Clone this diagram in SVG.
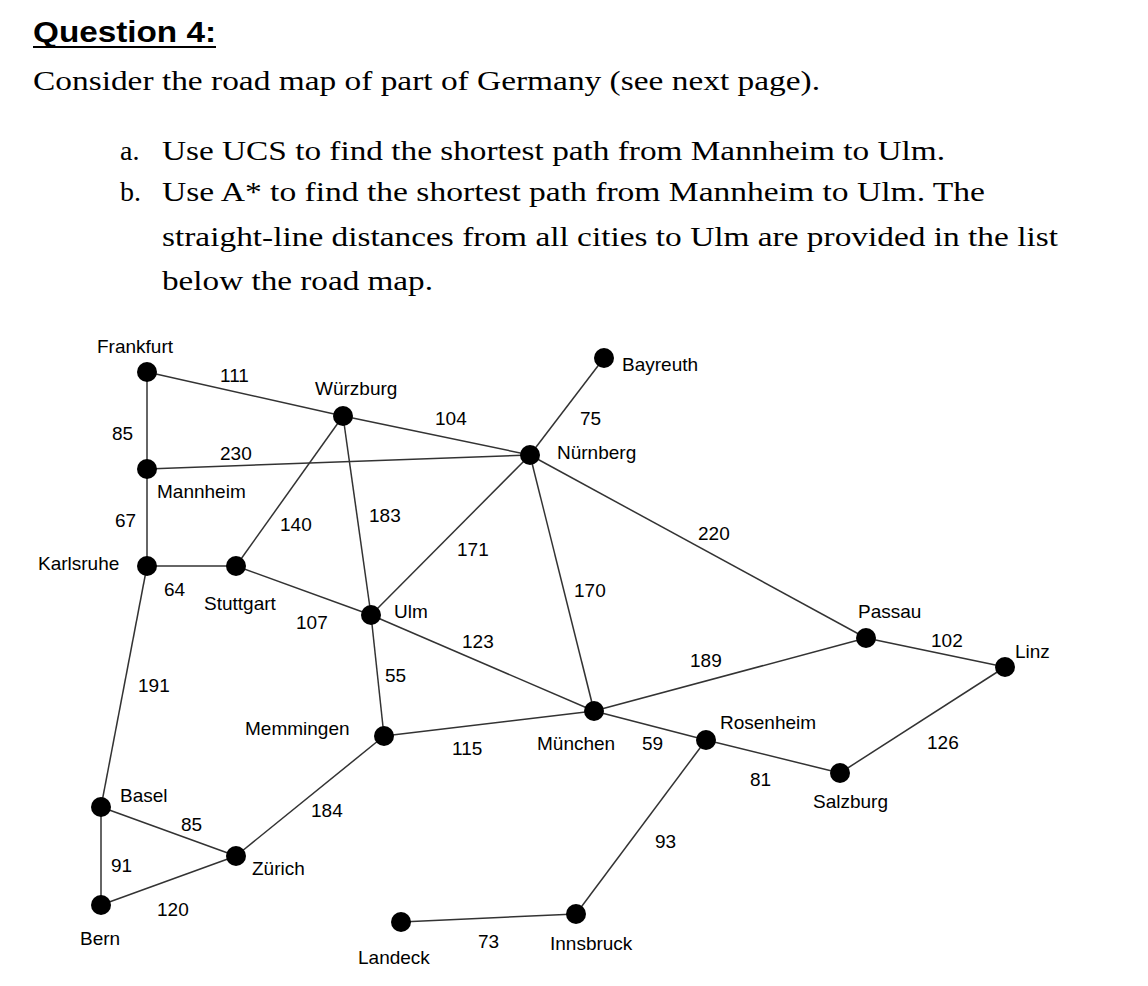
<svg xmlns="http://www.w3.org/2000/svg" width="1148" height="986" viewBox="0 0 1148 986">
<style>
.h{font-family:"Liberation Sans",Arial,sans-serif;font-weight:bold;font-size:29px}
.s{font-family:"Liberation Serif","Times New Roman",serif;font-size:28px}
.l{font-family:"Liberation Sans",Arial,sans-serif;font-size:19px}
.e line{stroke:#333;stroke-width:1.5}
circle{fill:#000}
</style>
<rect width="1148" height="986" fill="#fff"/>
<text class="h" x="33" y="42" textLength="183" lengthAdjust="spacingAndGlyphs">Question 4:</text>
<line x1="33" y1="47" x2="216" y2="47" stroke="#000" stroke-width="2"/>
<text class="s" x="33" y="90" textLength="787" lengthAdjust="spacingAndGlyphs">Consider the road map of part of Germany (see next page).</text>
<text class="s" x="120" y="160">a.</text><text class="s" x="162" y="160" textLength="783" lengthAdjust="spacingAndGlyphs">Use UCS to find the shortest path from Mannheim to Ulm.</text>
<text class="s" x="120" y="201">b.</text><text class="s" x="162" y="201" textLength="823" lengthAdjust="spacingAndGlyphs">Use A* to find the shortest path from Mannheim to Ulm. The</text>
<text class="s" x="162" y="246" textLength="896" lengthAdjust="spacingAndGlyphs">straight-line distances from all cities to Ulm are provided in the list</text>
<text class="s" x="162" y="290" textLength="271" lengthAdjust="spacingAndGlyphs">below the road map.</text>
<g class="e" id="edges">
<line x1="147" y1="372" x2="343" y2="416"/>
<line x1="147" y1="372" x2="147" y2="469"/>
<line x1="343" y1="416" x2="530" y2="455"/>
<line x1="343" y1="416" x2="236" y2="566"/>
<line x1="343" y1="416" x2="371" y2="615"/>
<line x1="604" y1="358" x2="530" y2="455"/>
<line x1="147" y1="469" x2="530" y2="455"/>
<line x1="147" y1="469" x2="147" y2="566"/>
<line x1="530" y1="455" x2="371" y2="615"/>
<line x1="530" y1="455" x2="594" y2="711"/>
<line x1="530" y1="455" x2="866" y2="638"/>
<line x1="147" y1="566" x2="236" y2="566"/>
<line x1="147" y1="566" x2="101" y2="807"/>
<line x1="236" y1="566" x2="371" y2="615"/>
<line x1="371" y1="615" x2="594" y2="711"/>
<line x1="371" y1="615" x2="384" y2="736"/>
<line x1="866" y1="638" x2="1005" y2="667"/>
<line x1="866" y1="638" x2="594" y2="711"/>
<line x1="1005" y1="667" x2="840" y2="773"/>
<line x1="384" y1="736" x2="594" y2="711"/>
<line x1="384" y1="736" x2="236" y2="856"/>
<line x1="594" y1="711" x2="706" y2="740"/>
<line x1="706" y1="740" x2="840" y2="773"/>
<line x1="706" y1="740" x2="576" y2="914"/>
<line x1="101" y1="807" x2="236" y2="856"/>
<line x1="101" y1="807" x2="101" y2="905"/>
<line x1="101" y1="905" x2="236" y2="856"/>
<line x1="401" y1="922" x2="576" y2="914"/>
</g>
<g class="l" id="edge-labels">
<text x="220" y="382">111</text><text x="435" y="425">104</text><text x="580" y="425">75</text>
<text x="112" y="440">85</text><text x="220" y="460">230</text><text x="115" y="527">67</text>
<text x="280" y="531">140</text><text x="369" y="522">183</text><text x="457" y="556">171</text>
<text x="698" y="540">220</text><text x="164" y="596">64</text><text x="296" y="629">107</text>
<text x="574" y="597">170</text><text x="462" y="648">123</text><text x="931" y="647">102</text>
<text x="138" y="692">191</text><text x="385" y="682">55</text><text x="690" y="667">189</text>
<text x="452" y="755">115</text><text x="642" y="750">59</text><text x="927" y="749">126</text>
<text x="750" y="786">81</text><text x="311" y="817">184</text><text x="181" y="831">85</text>
<text x="655" y="848">93</text><text x="111" y="872">91</text><text x="157" y="916">120</text>
<text x="478" y="948">73</text>
</g>
<g id="Frankfurt"><circle cx="147" cy="372" r="10"/><text class="l" x="97" y="353">Frankfurt</text></g>
<g id="Wurzburg"><circle cx="343" cy="416" r="10"/><text class="l" x="315" y="395">Würzburg</text></g>
<g id="Bayreuth"><circle cx="604" cy="358" r="10"/><text class="l" x="622" y="371">Bayreuth</text></g>
<g id="Nurnberg"><circle cx="530" cy="455" r="10"/><text class="l" x="557" y="459">Nürnberg</text></g>
<g id="Mannheim"><circle cx="147" cy="469" r="10"/><text class="l" x="157" y="498">Mannheim</text></g>
<g id="Karlsruhe"><circle cx="147" cy="566" r="10"/><text class="l" x="38" y="570">Karlsruhe</text></g>
<g id="Stuttgart"><circle cx="236" cy="566" r="10"/><text class="l" x="204" y="610">Stuttgart</text></g>
<g id="Ulm"><circle cx="371" cy="615" r="10"/><text class="l" x="394" y="618">Ulm</text></g>
<g id="Passau"><circle cx="866" cy="638" r="10"/><text class="l" x="858" y="618">Passau</text></g>
<g id="Linz"><circle cx="1005" cy="667" r="10"/><text class="l" x="1015" y="658">Linz</text></g>
<g id="Munchen"><circle cx="594" cy="711" r="10"/><text class="l" x="537" y="750">München</text></g>
<g id="Memmingen"><circle cx="384" cy="736" r="10"/><text class="l" x="245" y="735">Memmingen</text></g>
<g id="Rosenheim"><circle cx="706" cy="740" r="10"/><text class="l" x="720" y="729">Rosenheim</text></g>
<g id="Salzburg"><circle cx="840" cy="773" r="10"/><text class="l" x="813" y="808">Salzburg</text></g>
<g id="Basel"><circle cx="101" cy="807" r="10"/><text class="l" x="120" y="802">Basel</text></g>
<g id="Zurich"><circle cx="236" cy="856" r="10"/><text class="l" x="252" y="875">Zürich</text></g>
<g id="Bern"><circle cx="101" cy="905" r="10"/><text class="l" x="80" y="945">Bern</text></g>
<g id="Landeck"><circle cx="401" cy="922" r="10"/><text class="l" x="358" y="964">Landeck</text></g>
<g id="Innsbruck"><circle cx="576" cy="914" r="10"/><text class="l" x="550" y="950">Innsbruck</text></g>
</svg>
